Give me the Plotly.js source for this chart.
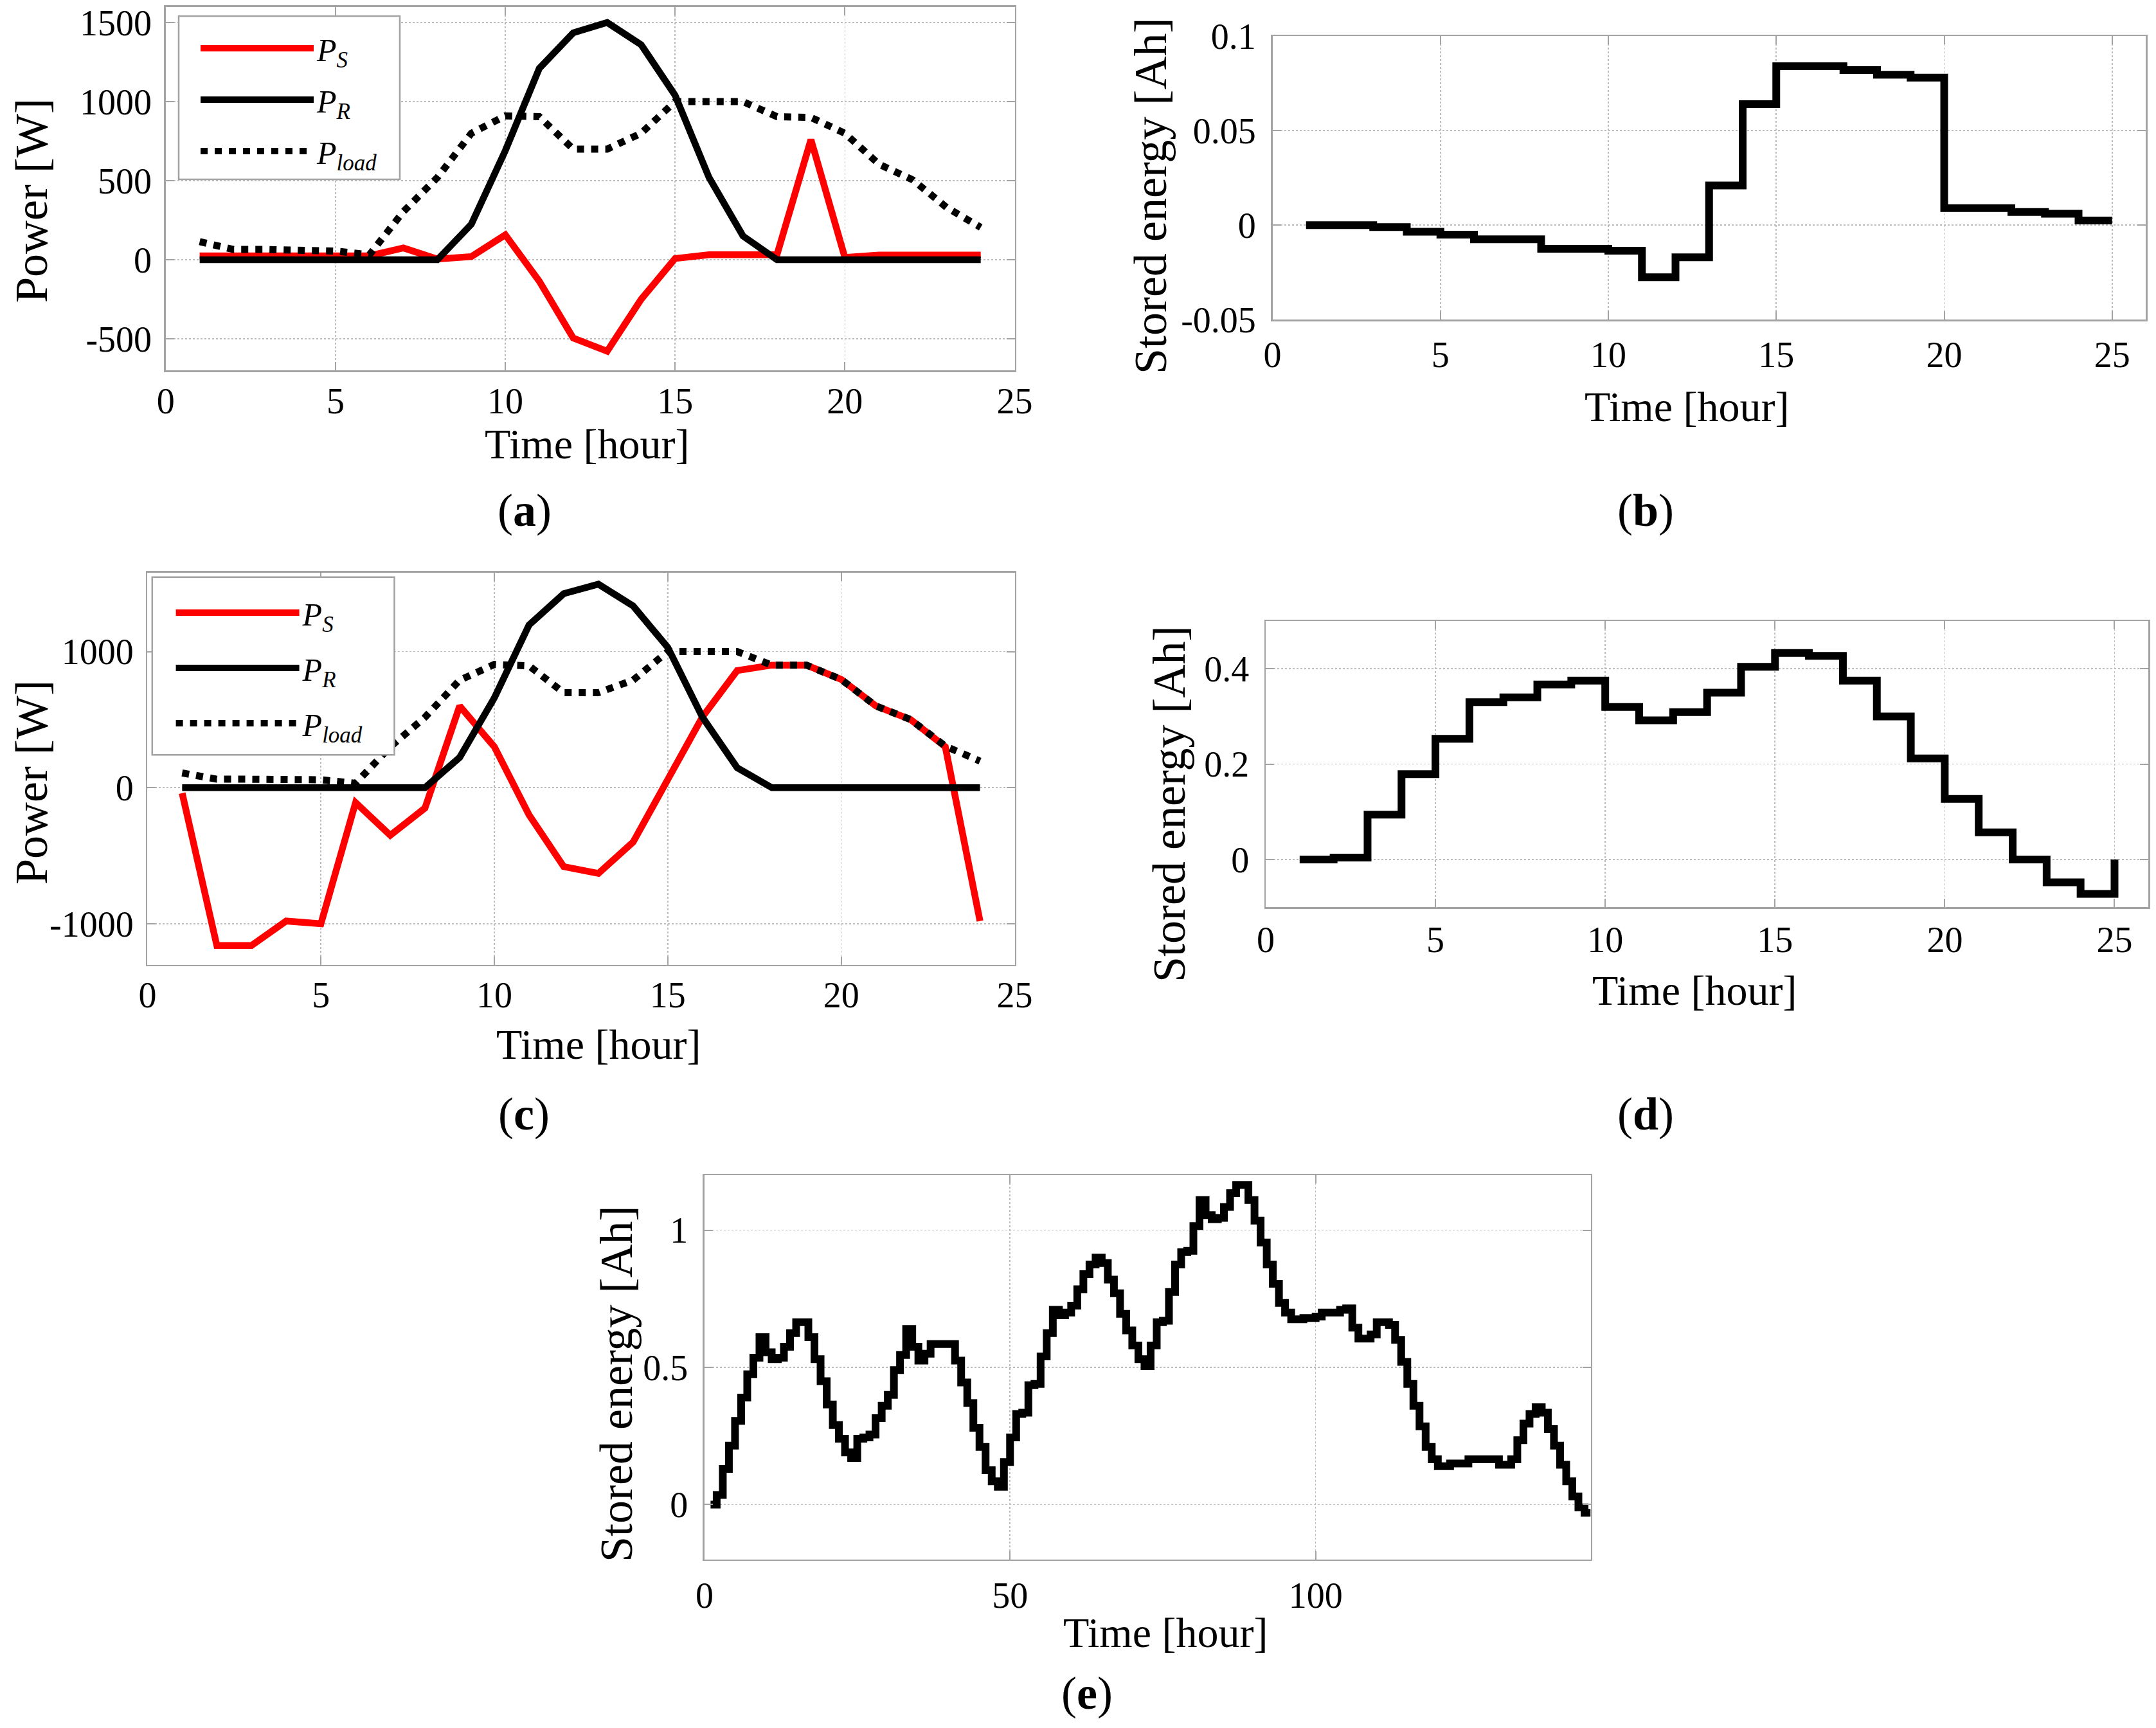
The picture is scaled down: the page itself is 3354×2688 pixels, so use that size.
<!DOCTYPE html>
<html>
<head>
<meta charset="utf-8">
<script src="https://cdn.plot.ly/plotly-3.0.1.min.js"></script>
<style>
html,body{margin:0;padding:0;background:#ffffff;}
#chart{width:3354px;height:2688px;}
</style>
</head>
<body>
<div id="chart"></div>
<script>
// ---------------- DATA ----------------
// Panel (a): power profiles, hours 1..24 [W]
const psA    = [25, 25, 25, 25, 25, 25, 75, 5, 20, 158, -135, -495, -578, -250, 8, 32, 32, 32, 760, 15, 30, 30, 30, 30];
const prA    = [0, 0, 0, 0, 0, 0, 0, 0, 225, 690, 1210, 1435, 1500, 1360, 1040, 520, 150, 0, 0, 0, 0, 0, 0, 0];
const loadA  = [115, 65, 65, 65, 55, 32, 305, 520, 800, 910, 905, 700, 700, 800, 1000, 1000, 1000, 905, 900, 800, 605, 505, 330, 205];

// Panel (c): power profiles, hours 1..24 [W]
const psC    = [-40, -1160, -1160, -980, -1000, -110, -350, -150, 600, 300, -200, -580, -630, -400, 60, 520, 860, 900, 900, 795, 600, 500, 300, -980];
const prC    = [0, 0, 0, 0, 0, 0, 0, 0, 222, 660, 1195, 1425, 1495, 1335, 1030, 517, 146, 0, 0, 0, 0, 0, 0, 0];
const loadC  = [108, 62, 62, 62, 58, 32, 300, 517, 790, 905, 895, 698, 698, 790, 1000, 1000, 1000, 900, 900, 795, 600, 500, 305, 195];

// Panel (b): stored energy, hours 1..25 [Ah]
const energyB = [0, 0, -0.001, -0.0035, -0.005, -0.0075, -0.0075, -0.0125, -0.0125, -0.0135, -0.0275, -0.017,
                 0.021, 0.064, 0.084, 0.084, 0.082, 0.0795, 0.078, 0.009, 0.009, 0.007, 0.006, 0.0025, 0.0025];

// Panel (d): stored energy, hours 1..25 [Ah]
const energyD = [0, 0.004, 0.094, 0.179, 0.253, 0.33, 0.34, 0.367, 0.375, 0.32, 0.292, 0.309, 0.35, 0.404,
                 0.433, 0.427, 0.375, 0.30, 0.212, 0.127, 0.057, 0.0, -0.048, -0.072, 0.0];

// Panel (e): stored energy over six days, hours 1..145 [Ah]
const energyE = [
  0.00, 0.035, 0.13, 0.215, 0.305, 0.39, 0.475, 0.535, 0.61, 0.555, 0.53, 0.535, 0.575, 0.625, 0.665, 0.665,
  0.61, 0.53, 0.45, 0.365, 0.29, 0.24, 0.19, 0.17,
  0.24, 0.245, 0.255, 0.315, 0.36, 0.40, 0.49, 0.545, 0.64, 0.575, 0.525, 0.55, 0.585, 0.585, 0.585, 0.585,
  0.525, 0.445, 0.37, 0.28, 0.21, 0.125, 0.085, 0.065,
  0.155, 0.245, 0.33, 0.335, 0.435, 0.44, 0.54, 0.625, 0.71, 0.69, 0.70, 0.725, 0.785, 0.84, 0.875, 0.90,
  0.88, 0.82, 0.77, 0.695, 0.635, 0.58, 0.53, 0.505,
  0.58, 0.665, 0.67, 0.775, 0.875, 0.92, 0.925, 1.015, 1.11, 1.055, 1.04, 1.045, 1.085, 1.135, 1.165, 1.165,
  1.11, 1.035, 0.955, 0.875, 0.805, 0.735, 0.70, 0.675,
  0.675, 0.68, 0.68, 0.685, 0.70, 0.70, 0.70, 0.71, 0.715, 0.645, 0.605, 0.605, 0.62, 0.665, 0.665, 0.655,
  0.60, 0.52, 0.44, 0.36, 0.285, 0.21, 0.165, 0.14,
  0.14, 0.15, 0.15, 0.15, 0.165, 0.165, 0.165, 0.165, 0.165, 0.145, 0.145, 0.165, 0.235, 0.295, 0.33, 0.355,
  0.335, 0.275, 0.215, 0.145, 0.085, 0.03, -0.01, -0.03, -0.03
];

// Tick values / labels
const hourTicks      = [0, 5, 10, 15, 20, 25];
const hourLabels     = ['0', '5', '10', '15', '20', '25'];
const hourTicksE     = [0, 50, 100];
const hourLabelsE    = ['0', '50', '100'];
const powerTicksA    = [-500, 0, 500, 1000, 1500];
const powerLabelsA   = ['-500', '0', '500', '1000', '1500'];
const powerTicksC    = [-1000, 0, 1000];
const powerLabelsC   = ['-1000', '0', '1000'];
const energyTicksB   = [-0.05, 0, 0.05, 0.1];
const energyLabelsB  = ['-0.05', '0', '0.05', '0.1'];
const energyTicksD   = [0, 0.2, 0.4];
const energyLabelsD  = ['0', '0.2', '0.4'];
const energyTicksE   = [0, 0.5, 1];
const energyLabelsE  = ['0', '0.5', '1'];

const seriesNames = ['<i>P</i><sub><i>S</i></sub>', '<i>P</i><sub><i>R</i></sub>', '<i>P</i><sub><i>load</i></sub>'];
const panelLabels = ['(<b>a</b>)', '(<b>b</b>)', '(<b>c</b>)', '(<b>d</b>)', '(<b>e</b>)'];
const xTitleText  = 'Time [hour]';
const powerTitle  = 'Power [W]';
const energyTitle = 'Stored energy [Ah]';

// ---------------- STYLE ----------------
const FONT = 'Liberation Serif, Times New Roman, serif';
const hoursOf = arr => arr.map((_, i) => i + 1);

function powerTraces(ps, pr, load, xa, ya, legendId) {
  return [
    {x: hoursOf(ps), y: ps, xaxis: xa, yaxis: ya, type: 'scatter', mode: 'lines', name: seriesNames[0],
     legend: legendId, legendgroup: legendId + 's', line: {color: '#ff0000', width: 10.5}},
    {x: hoursOf(pr), y: pr, xaxis: xa, yaxis: ya, type: 'scatter', mode: 'lines', name: seriesNames[1],
     legend: legendId, legendgroup: legendId + 'r', line: {color: '#000000', width: 10.5}},
    {x: hoursOf(load), y: load, xaxis: xa, yaxis: ya, type: 'scatter', mode: 'lines', name: seriesNames[2],
     legend: legendId, legendgroup: legendId + 'l', line: {color: '#000000', width: 11, dash: '11px,11px'}}
  ];
}
function stairTrace(vals, xa, ya) {
  return {x: hoursOf(vals), y: vals, xaxis: xa, yaxis: ya, type: 'scatter', mode: 'lines',
          showlegend: false, line: {color: '#000000', width: 12, shape: 'hv'}};
}

const data = [].concat(
  powerTraces(psA, prA, loadA, 'x', 'y', 'legend'),
  [stairTrace(energyB, 'x2', 'y2')],
  powerTraces(psC, prC, loadC, 'x3', 'y3', 'legend2'),
  [stairTrace(energyD, 'x4', 'y4')],
  [stairTrace(energyE, 'x5', 'y5')]
);

const W = 3354, H = 2688;
const px = v => v / W;
const py = v => 1 - v / H;

function axisBase(extra) {
  return Object.assign({
    showline: true, mirror: 'ticks', linecolor: '#a3a3a3', linewidth: 2.5,
    ticks: 'inside', ticklen: 13, tickwidth: 2, tickcolor: '#a3a3a3',
    showgrid: true, gridcolor: '#bdbdbd', gridwidth: 1.6, griddash: 'dot',
    zeroline: false, fixedrange: true,
    tickfont: {family: FONT, size: 56, color: '#000000'},
    tickmode: 'array'
  }, extra);
}

const legendBoxA = [278, 622, 25, 279];
const legendBoxC = [236.8, 613.5, 897.7, 1174.2];
function boxShape(b) {
  return {type: 'rect', xref: 'paper', yref: 'paper', x0: px(b[0]), x1: px(b[1]), y0: py(b[3]), y1: py(b[2]),
          fillcolor: '#ffffff', line: {color: '#a3a3a3', width: 2.5}, layer: 'above'};
}

// axis titles placed as annotations (centres in page pixels)
const xTitlePos = [[913, 690], [2624, 632], [931, 1624], [2636, 1540], [1813, 2539]];
const yTitlePos = [[49, powerTitle, 312], [1790, energyTitle, 305], [49, powerTitle, 1217],
                   [1819, energyTitle, 1251], [959, energyTitle, 2153]];
const labelPos  = [[816, 794], [2560, 794], [815, 1733], [2560, 1733], [1691, 2634]];

const annBase = {xref: 'paper', yref: 'paper', xanchor: 'center', yanchor: 'middle', showarrow: false};
const annotations = [].concat(
  labelPos.map((p, i) => Object.assign({}, annBase, {text: panelLabels[i], x: px(p[0]), y: py(p[1]),
      font: {family: FONT, size: 72, color: '#000000'}})),
  xTitlePos.map(p => Object.assign({}, annBase, {text: xTitleText, x: px(p[0]), y: py(p[1]),
      font: {family: FONT, size: 66, color: '#000000'}})),
  yTitlePos.map(p => Object.assign({}, annBase, {text: p[1], x: px(p[0]), y: py(p[2]), textangle: -90,
      font: {family: FONT, size: 72, color: '#000000'}}))
);

const layout = {
  width: W, height: H,
  margin: {l: 0, r: 0, t: 0, b: 0, pad: 0},
  paper_bgcolor: '#ffffff', plot_bgcolor: '#ffffff',
  showlegend: true,
  // (a)
  xaxis:  axisBase({domain: [px(257.8), px(1578.5)], range: [0, 25], anchor: 'y',
                    tickvals: hourTicks, ticktext: hourLabels, ticklabelstandoff: -3}),
  yaxis:  axisBase({domain: [py(576.3), py(10.5)], range: [-700, 1600], anchor: 'x',
                    tickvals: powerTicksA, ticktext: powerLabelsA, ticklabelstandoff: 8}),
  // (b)
  xaxis2: axisBase({domain: [px(1979.5), px(3338)], range: [0, 26], anchor: 'y2',
                    tickvals: hourTicks, ticktext: hourLabels, ticklabelstandoff: 4}),
  yaxis2: axisBase({domain: [py(497.4), py(56)], range: [-0.05, 0.1], anchor: 'x2',
                    tickvals: energyTicksB, ticktext: energyLabelsB, ticklabelstandoff: 12}),
  // (c)
  xaxis3: axisBase({domain: [px(229.4), px(1578.5)], range: [0, 25], anchor: 'y3',
                    tickvals: hourTicks, ticktext: hourLabels, ticklabelstandoff: -3}),
  yaxis3: axisBase({domain: [py(1500.5), py(890.7)], range: [-1300, 1580], anchor: 'x3',
                    tickvals: powerTicksC, ticktext: powerLabelsC, ticklabelstandoff: 8}),
  // (d)
  xaxis4: axisBase({domain: [px(1969), px(3342.3)], range: [0, 26], anchor: 'y4',
                    tickvals: hourTicks, ticktext: hourLabels, ticklabelstandoff: 0}),
  yaxis4: axisBase({domain: [py(1411.2), py(966.1)], range: [-0.1, 0.5], anchor: 'x4',
                    tickvals: energyTicksD, ticktext: energyLabelsD, ticklabelstandoff: 12}),
  // (e)
  xaxis5: axisBase({domain: [px(1095.9), px(2474.5)], range: [0, 145], anchor: 'y5',
                    tickvals: hourTicksE, ticktext: hourLabelsE, ticklabelstandoff: 5}),
  yaxis5: axisBase({domain: [py(2425.8), py(1828.3)], range: [-0.2, 1.2], anchor: 'x5',
                    tickvals: energyTicksE, ticktext: energyLabelsE, ticklabelstandoff: 12}),
  legend: {x: px(307), y: py(36), xanchor: 'left', yanchor: 'top', xref: 'paper', yref: 'paper',
           bgcolor: 'rgba(0,0,0,0)', borderwidth: 0,
           font: {family: FONT, size: 50, color: '#000000'},
           itemwidth: 176, traceorder: 'grouped', tracegroupgap: 12},
  legend2: {x: px(268.6), y: py(914), xanchor: 'left', yanchor: 'top', xref: 'paper', yref: 'paper',
           bgcolor: 'rgba(0,0,0,0)', borderwidth: 0,
           font: {family: FONT, size: 50, color: '#000000'},
           itemwidth: 192, traceorder: 'grouped', tracegroupgap: 18},
  shapes: [boxShape(legendBoxA), boxShape(legendBoxC)],
  annotations: annotations
};

Plotly.newPlot('chart', data, layout, {displayModeBar: false, staticPlot: true});
</script>
</body>
</html>
